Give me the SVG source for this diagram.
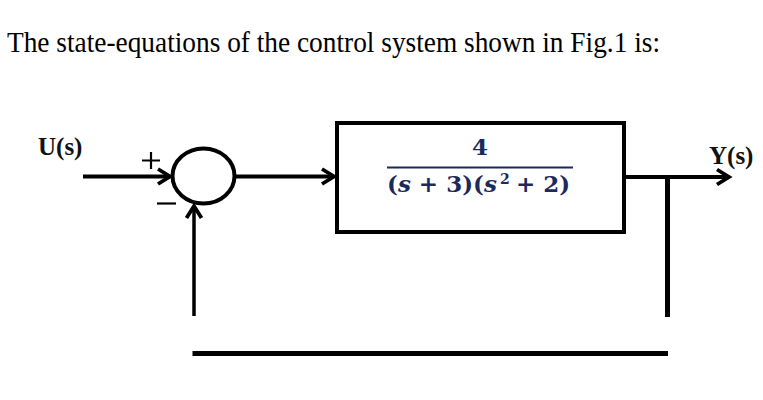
<svg xmlns="http://www.w3.org/2000/svg" width="763" height="400" viewBox="0 0 763 400">
<style>
.ln{stroke:#000;stroke-width:4;fill:none}
.lbl{font-family:"Liberation Serif","Times New Roman",serif;font-weight:bold;font-size:25px;fill:#111}
.math{font-family:"DejaVu Serif",serif;font-weight:bold;font-size:23px;fill:#1B2A5C}
.sup{font-family:"DejaVu Serif",serif;font-weight:bold;font-size:14px;fill:#1B2A5C}
.title{font-family:"Liberation Serif","Times New Roman",serif;font-size:30px;fill:#000}
</style>
<defs>
<marker id="arr" markerUnits="userSpaceOnUse" markerWidth="20" markerHeight="20" refX="14" refY="10" orient="auto" viewBox="0 0 20 20">
<polyline points="2,2.5 14,10 2,17.5" fill="none" stroke="#000" stroke-width="3.8"/>
</marker>
</defs>
<rect width="763" height="400" fill="#fff"/>
<text class="title" x="7" y="52" textLength="653" lengthAdjust="spacingAndGlyphs">The state-equations of the control system shown in Fig.1 is:</text>
<g id="connectors">
<line class="ln" x1="83" y1="176.5" x2="170" y2="176.5" marker-end="url(#arr)"/>
<line class="ln" x1="234" y1="176.5" x2="334" y2="176.5" marker-end="url(#arr)"/>
<line class="ln" x1="624" y1="177" x2="729" y2="177" marker-end="url(#arr)"/>
<line x1="667.5" y1="175" x2="667.5" y2="317" stroke="#000" stroke-width="5"/>
<line x1="192.5" y1="353.5" x2="668" y2="353.5" stroke="#000" stroke-width="5"/>
<line x1="194" y1="316" x2="194" y2="206" stroke="#000" stroke-width="3.5" marker-end="url(#arr)"/>
</g>
<g id="input-label"><text class="lbl" x="38" y="155">U(s)</text></g>
<g id="output-label"><text class="lbl" x="709" y="164">Y(s)</text></g>
<g id="summing-junction">
<ellipse cx="203.5" cy="176" rx="31" ry="27.5" fill="none" stroke="#000" stroke-width="4"/>
<path d="M142 160.5H160M151 152V169" stroke="#000" stroke-width="2.2" fill="none"/>
<line x1="157" y1="203.5" x2="176" y2="203.5" stroke="#000" stroke-width="2.2"/>
</g>
<g id="plant">
<rect x="337" y="123" width="287" height="109" fill="#fff" stroke="#000" stroke-width="4"/>
<text class="math" x="480" y="155" text-anchor="middle">4</text>
<line x1="387" y1="167.5" x2="573" y2="167.5" stroke="#1B2A5C" stroke-width="2.2"/>
<text class="math" x="387" y="192">(<tspan font-style="italic">s</tspan> + 3)(<tspan font-style="italic">s</tspan></text>
<text class="sup" x="500" y="184">2</text>
<text class="math" x="516" y="192">+ 2)</text>
</g>
</svg>
